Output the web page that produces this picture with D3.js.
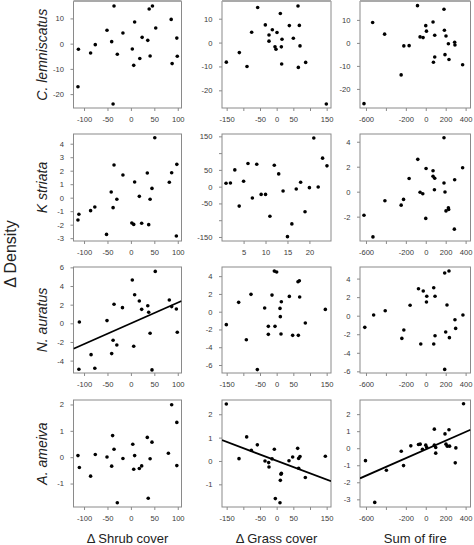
<!DOCTYPE html>
<html><head><meta charset="utf-8">
<script src="https://cdn.jsdelivr.net/npm/d3@7"></script>
<style>
html,body{margin:0;padding:0;background:#fff;}
svg{display:block;}
</style>
</head><body>
<div id="chart"></div>
<script>
// ---------------- data ----------------
const rowNames = ["C. lemniscatus", "K striata", "N. auratus", "A. ameiva"];
const colNames = ["\u0394 Shrub cover", "\u0394 Grass cover", "Sum of fire"];
const yTitle = "\u0394 Density";

// Row 1: C. lemniscatus
const lemShrub = [[-36,14.9],[-112,-2.2],[-76,-0.4],[-86,-3.7],[-51,5.3],[-41,0.8],[-29,-4.2],[-17,4.2],[8,8.6],[3,-2.1],[6,-8.6],[19,-5.9],[24,2.5],[36,1.3],[41,-4.9],[39,13.7],[46,14.9],[53,6.2],[-113,-17.1],[-38,-23.9],[86,9.6],[98,2.2],[99,-5.0],[88,-7.9]];
const lemGrass = [[-151,-8.2],[-112,-4.2],[-89,-10],[-75,4.3],[-57,14.7],[-34,7.4],[-23,3.2],[-23,0.6],[-13,5.4],[-5,-1.8],[-2,-2.8],[1,4.2],[11,12.2],[14,-1.8],[16,1.4],[15,-9.0],[38,7.1],[50,1.8],[64,15.3],[68,7.2],[70,-1.4],[65,-10.4],[87,-8.3],[149,-25.7]];
const lemFire = [[-83,16.2],[-533,8.9],[-413,3.8],[-220,-1.3],[-167,-1.2],[-247,-13.9],[-620,-26.4],[-57,2.6],[-27,2.3],[0,7.5],[7,5.1],[73,9.1],[90,3.3],[90,-6.1],[77,-8.4],[183,14.6],[187,5.5],[203,3.0],[227,-0.4],[193,-5.1],[233,-7.2],[290,0.3],[293,-0.9],[370,-9.5]];
// Row 2: K striata
const strShrub = [[-113,-1.65],[-111,-1.23],[-86,-0.96],[-77,-0.69],[-52,-2.72],[-42,0.42],[-38,-0.74],[-36,2.42],[-30,-0.12],[-17,1.68],[2,-1.88],[6,-1.98],[8,1.16],[18,0.1],[23,-1.9],[35,1.83],[38,-2.0],[41,-0.12],[45,0.69],[51,4.44],[82,1.14],[87,1.85],[98,2.47],[97,-2.84]];
const strIndex = [1,2,3,4,5,6,7,8,9,10,11,12,13,14,15,16,17,18,19,20,21,22,23,24];
const strIndexVals = [10,11,50,-58,16,69,-34,67,-23,-23,-88,64,38,-13,-149,-111,-7,13,-75,-3,145,-1,85,62];
const strFire = [[-620,-1.89],[-530,-3.62],[-410,-0.73],[-247,-1.08],[-223,-0.62],[-167,1.05],[-80,2.59],[-57,-0.05],[-30,-0.16],[3,1.86],[0,-2.14],[73,1.68],[73,1.24],[90,1.08],[87,0.16],[183,4.32],[183,0.7],[193,-0.03],[203,-1.54],[227,-1.3],[230,-1.43],[290,0.95],[287,-3.0],[370,1.92]];
// Row 3: N. auratus
const aurShrub = [[-111,-4.93],[-110,0.14],[-85,-3.36],[-77,-4.82],[-51,0.29],[-41,-3.25],[-38,-1.82],[-36,2.04],[-30,-2.32],[-18,1.68],[3,4.64],[6,-2.46],[8,3.07],[18,2.39],[23,1.5],[36,1.89],[38,1.18],[41,-1.07],[45,-5.0],[52,5.57],[82,2.5],[87,1.79],[97,1.54],[99,-0.96]];
const aurGrass = [[-151,-1.46],[-114,1.05],[-91,-3.15],[-77,1.95],[-58,-6.52],[-36,0.41],[-25,-1.65],[-25,-2.55],[-14,1.87],[-7,4.57],[0,4.46],[-5,-1.65],[10,0.37],[11,-0.56],[14,1.12],[13,-2.51],[38,1.72],[48,-2.66],[64,3.37],[68,3.48],[69,1.65],[65,-2.66],[86,-1.27],[146,0.26]];
const aurFire = [[-612,-1.26],[-523,0.07],[-407,0.54],[-240,-2.45],[-220,-1.55],[-157,1.12],[-73,2.91],[-50,-3.06],[-25,2.66],[10,2.09],[7,1.47],[80,3.02],[93,2.09],[80,-3.06],[93,-2.16],[190,4.6],[233,4.82],[213,1.15],[200,-1.76],[237,-2.37],[190,-5.79],[293,-0.43],[300,-1.37],[373,0.07]];
// Row 4: A. ameiva
const ameShrub = [[-113,0.06],[-110,-0.39],[-86,-0.72],[-76,0.1],[-51,0.01],[-41,-0.34],[-39,0.82],[-36,0.3],[-29,-1.73],[-17,-0.05],[4,0.49],[6,-0.46],[8,0.06],[18,-0.43],[23,-0.33],[35,0.75],[37,-1.56],[41,-0.06],[45,0.57],[80,0.15],[87,1.99],[98,1.32],[98,-0.32]];
const ameGrass = [[-151,2.44],[-113,0.1],[-90,1.03],[-76,0.46],[-58,0.69],[-35,0.0],[-24,-0.07],[-23,-0.26],[-14,0.09],[-7,0.5],[-4,-1.61],[10,-1.79],[11,-0.83],[14,-0.53],[13,-0.57],[37,0.01],[48,0.17],[63,0.54],[66,0.11],[70,0.19],[66,-0.31],[86,-0.71],[146,0.2]];
const ameFire = [[-605,-0.73],[-512,-3.18],[-395,-1.29],[-246,-0.18],[-223,-1.02],[-150,0.14],[-73,0.22],[-56,0.24],[-33,-0.06],[0,0.18],[10,0.04],[86,1.12],[86,0.18],[100,0.04],[100,-0.29],[193,0.84],[203,0.24],[216,0.12],[233,1.08],[239,0.12],[296,-0.86],[302,0.02],[379,2.61]];

// fitted lines [intercept, slope]
const aurShrubFit = [-0.01, 0.0222];
const ameGrassFit = [0.01, -0.00538];
const ameFireFit = [-0.07, 0.00257];

// axis limits
const xLimShrub = [-122.5, 108];
const xLimGrass = [-164, 163];
const xLimFire = [-660, 449];
const xLimIndex = [0.08, 24.92];
const yLims = [
  [[-25.5, 16.7], [-27.4, 17.2], [-28.3, 18.0]],
  [[-3.21, 4.72], [-162, 157], [-3.95, 4.62]],
  [[-5.33, 6.04], [-6.9, 5.03], [-6.18, 5.25]],
  [[-1.89, 2.17], [-1.97, 2.61], [-3.45, 2.83]]
];

// tick values / labels
const shrubTicks = [-100, -50, 0, 50, 100];
const shrubTickLabels = ["-100", "-50", "0", "50", "100"];
const grassTicks = [-150, -100, -50, 0, 50, 100, 150];
const grassTickLabels = ["-150", "", "-50", "0", "50", "", "150"];
const fireTicks = [-600, -400, -200, 0, 200, 400];
const fireTickLabels = ["-600", "", "-200", "0", "200", "400"];
const indexTicks = [5, 10, 15, 20];
const indexTickLabels = ["5", "10", "15", "20"];
const yTicks = [
  [[-20,-10,0,10], [-20,-10,0,10], [-20,-10,0,10]],
  [[-3,-2,-1,0,1,2,3,4], [-150,-100,-50,0,50,100,150], [-2,0,2,4]],
  [[-4,-2,0,2,4,6], [-6,-4,-2,0,2,4], [-6,-4,-2,0,2,4]],
  [[-1,0,1,2], [-1,0,1,2], [-3,-2,-1,0,1,2]]
];
const yHiddenLabels = [[[],[],[]],[[],[-100,100],[]],[[],[],[]],[[],[],[]]];

// ---------------- layout ----------------
const W = 474, H = 545;
const colLeft = [73.5, 222, 360], colRight = [181.5, 331, 470.5];
const rowTop = [1.5, 134, 267, 400], rowBottom = [108, 241, 373, 507];
const boxColor = "#8a8a8a", labColor = "#3a3a3a";
const font = "'Liberation Sans', Arial, Helvetica, sans-serif";

const seriesGrid = [
  [lemShrub, lemGrass, lemFire],
  [strShrub, strIndex.map((d, i) => [d, strIndexVals[i]]), strFire],
  [aurShrub, aurGrass, aurFire],
  [ameShrub, ameGrass, ameFire]
];
const fitGrid = [[null,null,null],[null,null,null],[aurShrubFit,null,null],[null,ameGrassFit,ameFireFit]];

const svg = d3.select("#chart").append("svg").attr("width", W).attr("height", H)
  .style("font-family", font);

const defs = svg.append("defs");

for (let r = 0; r < 4; r++) {
  for (let c = 0; c < 3; c++) {
    const x0 = colLeft[c], x1 = colRight[c], y0 = rowTop[r], y1 = rowBottom[r];
    let xLim, xT, xTL;
    if (r === 1 && c === 1) { xLim = xLimIndex; xT = indexTicks; xTL = indexTickLabels; }
    else if (c === 0) { xLim = xLimShrub; xT = shrubTicks; xTL = shrubTickLabels; }
    else if (c === 1) { xLim = xLimGrass; xT = grassTicks; xTL = grassTickLabels; }
    else { xLim = xLimFire; xT = fireTicks; xTL = fireTickLabels; }
    const xs = d3.scaleLinear().domain(xLim).range([x0, x1]);
    const ys = d3.scaleLinear().domain(yLims[r][c]).range([y1, y0]);
    const g = svg.append("g");

    const clipId = "clip" + r + c;
    defs.append("clipPath").attr("id", clipId).append("rect")
      .attr("x", x0).attr("y", y0).attr("width", x1 - x0).attr("height", y1 - y0);

    // x axis
    const xa = g.append("g").attr("transform", `translate(0,${y1})`)
      .call(d3.axisBottom(xs).tickValues(xT).tickSize(3).tickPadding(5.5)
        .tickFormat((d, i) => xTL[i]));
    // y axis
    const hidden = yHiddenLabels[r][c];
    const ya = g.append("g").attr("transform", `translate(${x0},0)`)
      .call(d3.axisLeft(ys).tickValues(yTicks[r][c]).tickSize(3).tickPadding(6.5)
        .tickFormat(d => hidden.includes(d) ? "" : String(d)));
    [xa, ya].forEach(a => {
      a.select(".domain").remove();
      a.selectAll(".tick line").attr("stroke", boxColor);
      a.selectAll(".tick text").attr("fill", labColor).style("font-size", "7.6px").style("font-family", font);
    });

    // box
    g.append("rect").attr("x", x0).attr("y", y0).attr("width", x1 - x0).attr("height", y1 - y0)
      .attr("fill", "none").attr("stroke", boxColor).attr("stroke-width", 1);
    if (r === 0) {
      g.append("line").attr("x1", x0).attr("x2", x1).attr("y1", 1).attr("y2", 1)
        .attr("stroke", "#a9a9a9").attr("stroke-width", 2);
    }

    // fit line
    const fit = fitGrid[r][c];
    if (fit) {
      g.append("line").attr("clip-path", `url(#${clipId})`)
        .attr("x1", xs(xLim[0])).attr("y1", ys(fit[0] + fit[1] * xLim[0]))
        .attr("x2", xs(xLim[1])).attr("y2", ys(fit[0] + fit[1] * xLim[1]))
        .attr("stroke", "#000").attr("stroke-width", 1.8);
    }

    // points
    g.append("g").selectAll("circle").data(seriesGrid[r][c]).join("circle")
      .attr("cx", d => xs(d[0])).attr("cy", d => ys(d[1])).attr("r", 1.8).attr("fill", "#000");
  }
  // row label
  const cy = (rowTop[r] + rowBottom[r]) / 2;
  svg.append("text").attr("transform", `translate(42,${cy}) rotate(-90)`)
    .attr("text-anchor", "middle").attr("dy", "0.35em")
    .style("font-size", "14px").style("font-style", "italic").attr("fill", "#222")
    .text(rowNames[r]);
}

// column labels
for (let c = 0; c < 3; c++) {
  svg.append("text").attr("x", (colLeft[c] + colRight[c]) / 2).attr("y", 543)
    .attr("text-anchor", "middle").style("font-size", "13px").attr("fill", "#222")
    .text(colNames[c]);
}

// y title
svg.append("text").attr("transform", `translate(10,254) rotate(-90)`)
  .attr("text-anchor", "middle").attr("dy", "0.35em")
  .style("font-size", "16px").attr("fill", "#222").text(yTitle);
</script>
</body></html>
